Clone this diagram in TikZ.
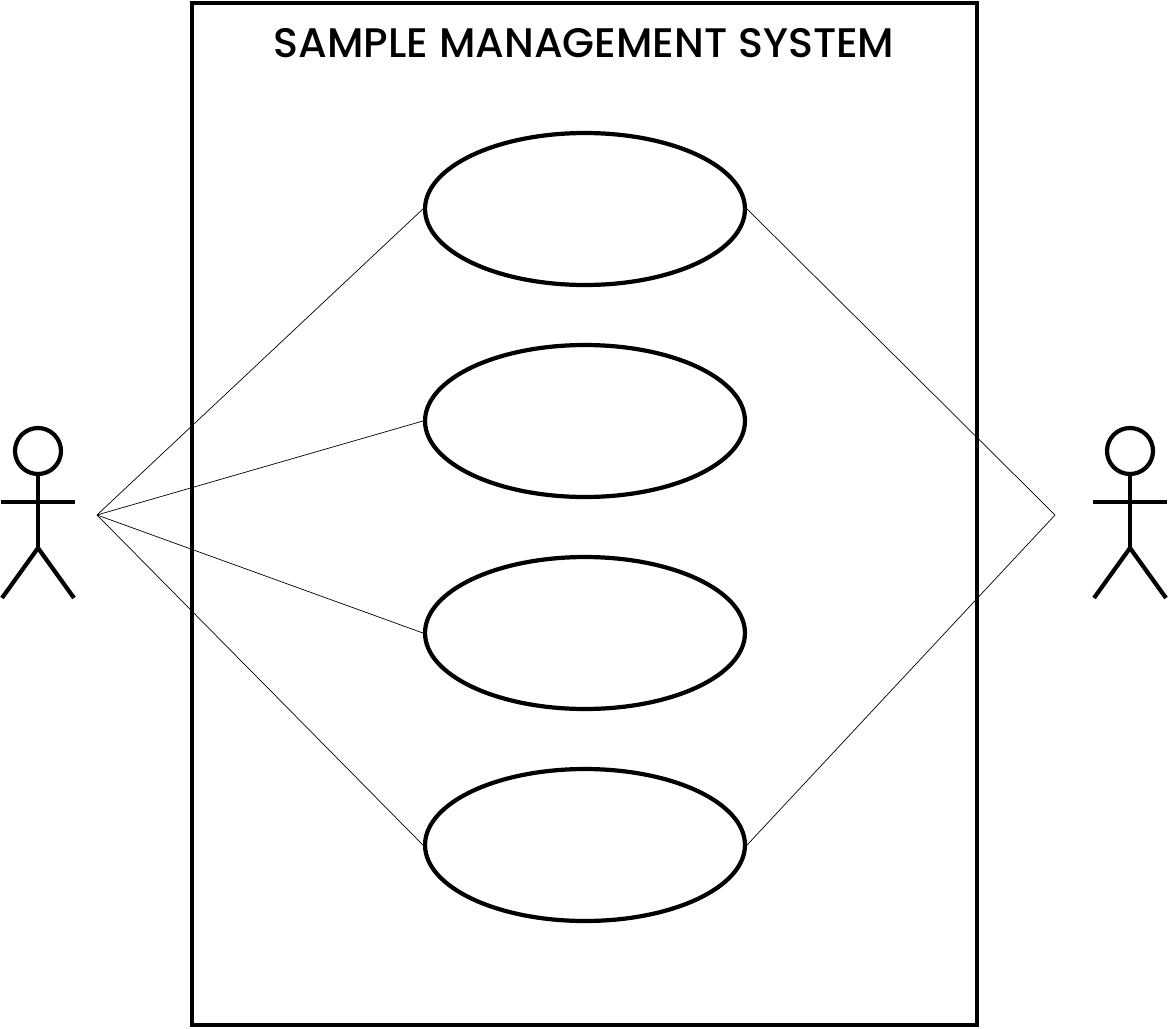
\documentclass[tikz,border=0pt]{standalone}
\usepackage{fontspec}
\setmainfont{Poppins}[BoldFont={Poppins Medium}]
\usetikzlibrary{shapes.geometric}

\tikzset{
    usecase/.style={ellipse,draw,line width=2.4pt,minimum width=6.4cm,minimum height=3.04cm},
    assoc/.style={line width=0.4pt},
    stick/.style={line width=2.4pt}
}
\newcommand{\actorfig}[2]{%
    \draw[stick] (#1,451) circle (23);
    \draw[stick] (#1,474) -- (#1,548);
    \draw[stick] (#1-37,502) -- (#1+37,502);
    \draw[stick] (#1-36,598) -- (#1,548) -- (#1+36,598);
}

\begin{document}
\begin{tikzpicture}[x=0.02cm,y=-0.02cm]
    \useasboundingbox (0,0) rectangle (1170,1028);
    % system boundary
    \draw[line width=2.4pt] (192,3) rectangle (977,1025);
    \node[font=\fontsize{23.5}{28}\selectfont\bfseries] (title) at (584,43) {SAMPLE MANAGEMENT SYSTEM};
    % use cases
    \foreach \i/\y in {1/209,2/421,3/633,4/845}
        \node[usecase] (uc\i) at (585,\y) {};
    % actors
    \actorfig{38}{left}
    \actorfig{1130}{right}
    \coordinate (userL) at (97,515);
    \coordinate (userR) at (1055,515);
    % associations
    \foreach \i in {1,...,4}
        \draw[assoc] (userL) -- (uc\i.west);
    \draw[assoc] (userR) -- (uc1.east);
    \draw[assoc] (userR) -- (uc4.east);
\end{tikzpicture}
\end{document}
